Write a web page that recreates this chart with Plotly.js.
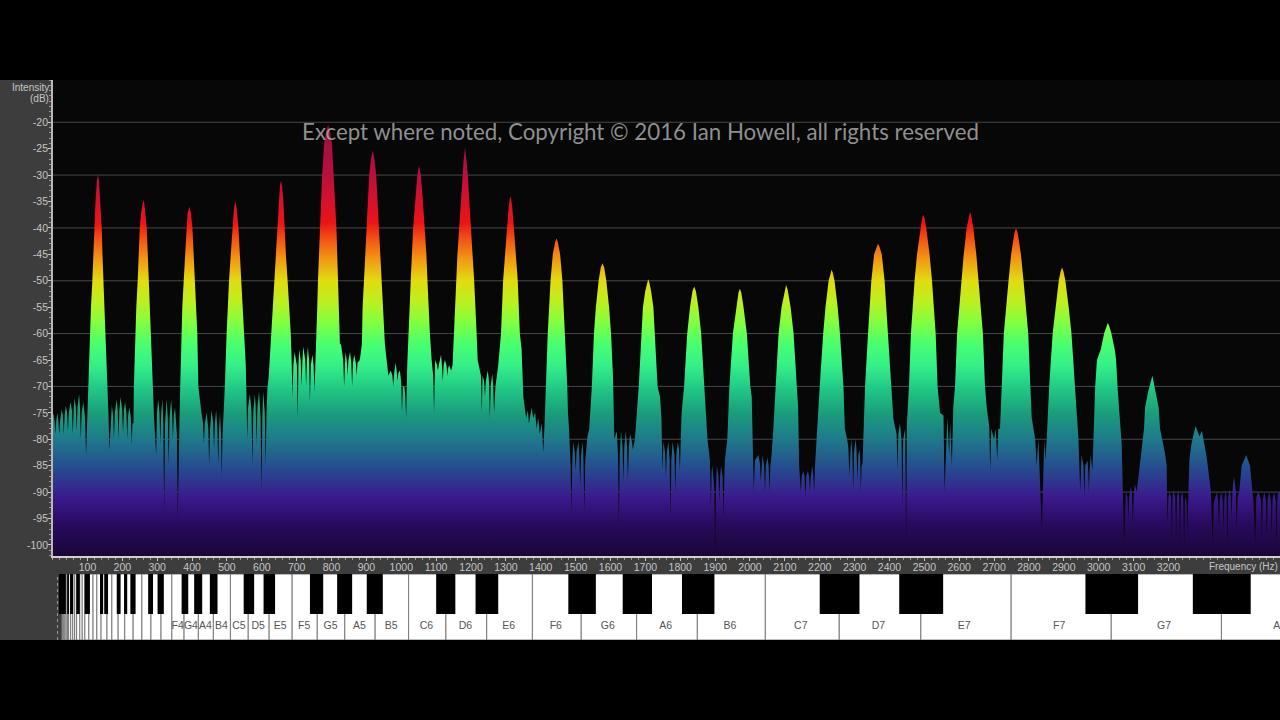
<!DOCTYPE html>
<html><head><meta charset="utf-8">
<script src="https://cdn.plot.ly/plotly-3.0.1.min.js"></script>
<style>html,body{margin:0;padding:0;background:#000}#c{width:1280px;height:720px}</style>
</head><body><div id="c"></div>
<script>
const bandHz = [
[0,2,5.5,8,10.5,14,16.5,19,21.5,26,29.5,32,34.5,38,41.5,44,46.5,51,55.5,58,60.5,63,66.5,69,71.5,76,78.5,81,83.5,88,93,96],
[100,104,110,114,117,119,123,127,130,133,137,141,143,146,150,156,160,163],
[166.5,170,173.5,176,178.5,184,186.5,189,191.5,195,199.5,202,204.5,208,211.5,214,216.5,220,224.5,227,229],
[232,233,237,240,244,247,250,254,257,260,263,266,270,273,276,280,283,287,291],
[297,299.5,303,306.5,309,311.5,315,317.5,320,322.5,327,330.5,333,335.5,340,342.5,345,347.5,351,356.5,359,361.5],
[364,366,369,372,376,380,383,387,392,397,401,404,408,412,415,418],
[422,426,431.5,434,436.5,442,446.5,449,451.5,456,460.5,463,465.5,469,472.5,475,477.5,480,483,485,487.5,490],
[494,499,502,506,511,515,520,524,528,533,537,542,546,549,554],
[556,558,560.5,566,570.5,573,575.5,580,582.5,585,587.5,592,596.5,599,601.5,604,608.5,611,613.5,616],
[620,627,631,636,641,645,648,652,655,658,662,665,669,674,679,683],
[685.5,688,690.5,694,700.5,703,705,707,711.5,714,716.5,719,724.5,727,729.5,732,735.5,738,740.5,745,748.5,751,753.5],
[756,759,761,764,766,770,773,779,785,790,795,801,807,810,814,816,819,821,824],
[827,833.5,836,838,840,843.5,846,848.5,853,856.5,859,861.5,865,869.5,872,874.5,881],
[887,889,893,897,900,904,908,913,918,923,928,932,936,939,943,947,953],
[963,970,974.5,977,979.5,984,986.5,989,991.5,996,999.5,1002,1004.5,1009,1011.5,1014],
[1017,1022,1024,1027,1030,1034,1040,1046,1051,1056,1062,1068,1072,1075,1078,1082,1087],
[1091.5,1094,1096,1097,1102.5,1105,1107.5,1114,1116.5,1119,1121.5,1125,1129.5,1132,1134.5,1137,1143],
[1147,1151,1157,1161,1166,1171,1175,1179,1183,1187,1191,1195,1200,1205,1209,1216,1219],
[1228.5,1231,1233,1237.5,1240,1242.5,1248,1251.5,1254,1256.5,1261,1263.5,1266,1270],
[1278,1286,1292,1297,1303,1308,1311,1313,1315,1318,1323,1329,1334,1340,1345,1350],
[1355,1358,1363,1366,1374,1378,1384,1388,1393,1397,1403,1407],
[1411,1414,1420,1428,1434.5,1441,1445,1449,1455.5,1462,1470,1476,1478],
[1481,1485.5,1488,1490.5,1493,1497.5,1500,1502.5,1508,1510.5,1513,1515.5,1520,1522.5,1525,1527.5,1534],
[1539,1546.5,1552.5,1558,1566,1572,1577,1582,1588,1596,1601.5,1607],
[1611,1618,1621.5,1624,1626.5,1630,1634.5,1637,1639.5,1644,1647.5,1650,1652.5,1656,1661.5,1664],
[1670,1681,1689,1693,1699.5,1705,1708,1711,1716.5,1723,1727,1735,1742],
[1746,1749,1752,1756.5,1759,1761.5,1766,1769.5,1772,1774.5,1778,1783.5,1786,1788.5,1793,1796.5,1799,1801.5],
[1804,1811,1820,1828,1835,1840,1845,1852,1860,1869,1878],
[1885,1888,1890,1892,1897.5,1900,1902.5,1905,1909.5,1912,1914.5,1917,1921.5,1924,1926.5,1928],
[1935,1941,1951,1960.5,1967,1971,1975,1981.5,1991,2001,2005],
[2011,2014,2024,2028.5,2031,2033.5,2036,2040.5,2043,2045.5,2050,2053.5,2056,2058.5,2062],
[2067,2073.5,2082,2090.5,2099,2103.5,2108,2116.5,2125,2133.5,2138],
[2141,2146,2148.5,2153,2156.5,2159,2161.5,2166,2169.5,2172,2174.5,2179,2181.5,2184,2186.5,2189],
[2196,2200,2210,2216.5,2225.5,2231,2234,2237,2242.5,2251.5,2258,2268,2272],
[2280,2282.5,2285,2287.5,2290,2293.5,2296,2298.5,2303,2305.5,2308,2310.5,2314,2316,2318,2320,2323],
[2325,2330,2338.5,2348,2356,2363,2367,2371,2378,2386,2395.5,2404,2411],
[2414,2420.5,2423,2425.5,2430,2434.5,2437,2439.5,2445,2446.5,2448],
[2450,2456,2461.5,2466,2472,2479,2488.5,2494,2497,2500,2505.5,2515,2522,2528,2532.5,2538,2545],
[2555,2558,2566,2571,2574,2579],
[2583,2588,2594,2606,2613,2621.5,2628,2631,2634,2640.5,2649,2656,2668,2674,2679],
[2686,2689,2692,2700,2705,2709,2712],
[2717,2722,2728,2741.5,2749,2758,2763,2768,2777,2784.5,2798,2804,2808],
[2818,2822,2827,2837,2844],
[2847,2851,2858,2868,2876,2885.5,2891,2895,2899,2904.5,2914,2922,2932,2942],
[2947,2951,2956.5,2959,2961.5,2968,2970,2972,2974,2977,2982],
[2985,2990,2995,3006,3015.5,3022,3026,3030,3036.5,3046,3050,3054,3062,3066],
[3073,3075.5,3078,3082.5,3085,3087.5,3092,3095.5,3098,3100.5,3104,3109],
[3117,3123,3130,3133,3142,3154,3162,3172,3176,3190,3195],
[3197,3200,3203,3207.5,3210,3212,3214,3219.5,3222,3224.5,3229,3231,3233,3235.5,3240,3242.5,3245,3247.5,3250,3252,3254],
[3260,3265,3271,3278,3289,3296,3310,3317,3322],
[3327,3330,3339,3342.5,3345,3347.5,3351,3355.5,3358,3360.5,3364,3366.5,3369,3371.5,3375,3378.5,3381,3383.5,3388,3393.5,3396,3398.5,3403],
[3410,3423,3434,3444],
[3449,3452,3458,3465.5,3468,3470.5,3475,3479.5,3482,3484.5,3489,3493.5,3496,3498.5,3503,3507.5,3510,3512.5,3515,3520]
];
const bandDb = [
[-76,-75,-76.5,-79,-76.5,-75,-76.5,-79,-76.5,-74.3,-75.5,-79,-75.5,-73.7,-75,-78.5,-75,-73,-74.5,-79,-74.5,-72.2,-74,-78.5,-74,-71.5,-74,-80,-75,-73,-76,-83],
[-75,-65,-55,-50,-45,-40,-35,-31,-30,-31,-35,-40,-45,-50,-55,-65,-75,-82],
[-76,-73.5,-75.5,-80,-75,-72.5,-74.5,-80,-74.5,-72,-74.5,-79,-74.5,-73,-75,-80,-75.5,-74,-76,-81,-77],
[-77,-70,-60,-55,-50,-45,-40,-37,-35.4,-34.7,-35.4,-37,-40,-45,-50,-55,-60,-70,-76],
[-83,-75,-72.5,-75,-81,-75,-72.5,-77,-94,-77,-72.5,-76,-85,-76,-72.5,-75,-80,-75.5,-74,-79,-95,-80],
[-76,-70,-60,-55,-50,-45,-40,-37.2,-36,-37.2,-40,-45,-50,-55,-60,-70],
[-73,-74.5,-77,-81,-77,-75,-78,-85,-78,-74.5,-77,-82,-77,-74.5,-78,-85,-78,-75,-79,-87,-79,-76],
[-70,-60,-55,-50,-45,-40,-36.3,-35,-36.3,-40,-45,-50,-55,-60,-66],
[-72,-80,-74,-71.5,-75,-85,-75,-71.5,-74,-81,-74,-71,-76,-90,-76,-71,-75,-85,-75,-70.5],
[-68,-60,-55,-50,-45,-40,-35,-32,-31,-32,-35,-40,-45,-50,-55,-60],
[-65,-72,-66,-63.5,-66,-76,-66,-63,-65,-70,-65,-62.5,-65,-70,-65,-62.5,-65,-73,-66,-64,-66,-71,-66],
[-62,-55,-50,-45,-40,-35,-30,-24,-21.5,-20.5,-21.5,-24,-30,-35,-40,-45,-50,-55,-62],
[-62,-65,-70,-65,-63.5,-65,-68,-65,-63.5,-65.5,-70,-65.5,-64,-65.5,-68,-65.5,-65],
[-62,-55,-50,-45,-40,-35,-30,-27,-25.3,-27,-30,-35,-40,-45,-50,-55,-62],
[-68,-67,-68,-70,-67.5,-65.5,-67,-69,-67.5,-67,-69,-75,-70,-70,-72,-76],
[-66,-60,-55,-50,-45,-40,-35,-30,-28.2,-30,-35,-40,-45,-50,-55,-60,-65],
[-68,-75,-68,-65,-66,-67,-66,-64,-66,-69,-66,-65,-66,-68,-66.5,-66,-67],
[-66,-60,-50,-45,-40,-35,-30,-27,-24.7,-27,-30,-35,-40,-45,-50,-60,-65],
[-68,-75,-68,-69,-72,-69,-67,-69,-76,-70,-67.5,-70,-75,-70],
[-66,-60,-50,-45,-40,-36,-34.5,-34,-34.5,-36,-40,-45,-50,-60,-63,-72],
[-74.5,-76,-74.5,-77,-74,-76,-75,-78,-76,-79,-77,-82.5],
[-77,-70,-60,-50,-45,-42.7,-42,-42.7,-45,-50,-60,-70,-75],
[-78,-85,-94,-84,-80.5,-82.5,-86,-82.5,-80.5,-83,-89,-83,-80.5,-84,-94,-84,-79.5],
[-78,-70,-60,-55,-50,-47.5,-46.7,-47.5,-50,-55,-60,-68],
[-80,-78.5,-83,-97,-83,-78.5,-81.5,-88,-81.5,-78.5,-81.5,-88,-81.5,-79,-80.5,-82],
[-80,-70,-60,-55,-52,-50.2,-49.7,-50.2,-52,-55,-60,-70,-72],
[-76,-86,-80.5,-82.5,-87,-82.5,-80.5,-84,-95,-84,-80.5,-83,-90,-83,-80.5,-82,-86,-80],
[-75,-70,-60,-55,-52,-51.1,-52,-55,-60,-70,-80],
[-84,-93,-86,-85,-89,-102,-89,-85,-87,-92,-87,-85,-87,-95,-87,-84],
[-80,-70,-60,-55,-52.2,-51.5,-52.2,-55,-60,-70,-72],
[-90,-84,-83,-84.5,-88,-84.5,-83,-85,-90,-85,-83.5,-85,-90,-85,-83],
[-78,-70,-60,-55,-51.7,-50.8,-51.7,-55,-60,-70,-74],
[-85,-90,-87,-86,-87,-91,-87,-86,-87,-90,-87,-85,-87,-90,-85,-82],
[-75,-70,-60,-55,-50,-48.4,-47.9,-48.4,-50,-55,-60,-70,-78],
[-80.5,-82,-87,-82,-80,-82.5,-90,-82.5,-80,-82,-88,-83,-82,-84,-90,-85,-84.5],
[-80,-70,-60,-50,-45,-43.5,-43,-43.5,-45,-50,-60,-70,-76],
[-77,-79,-86,-79,-77,-80,-93,-80,-78,-85,-100],
[-77,-70,-60,-55,-50,-45,-40,-38,-37.5,-38,-40,-45,-50,-55,-60,-70,-75],
[-75.5,-90,-76,-83,-77,-85],
[-74,-70,-60,-50,-45,-40,-37.5,-37,-37.5,-40,-45,-50,-60,-70,-74],
[-77.5,-86,-78,-80,-78,-84,-78],
[-78,-70,-60,-50,-45,-41,-40,-41,-45,-50,-60,-70,-76],
[-80,-85,-80,-97,-80],
[-84,-80,-70,-60,-55,-50,-48.2,-47.5,-48.2,-50,-55,-60,-70,-80],
[-90,-83,-85,-91,-85,-84,-86,-90,-86,-83,-86],
[-79,-70,-65,-63,-60,-58.5,-58,-58.5,-60,-63,-65,-70,-77,-81],
[-100,-92,-90,-91,-95,-91,-89,-90.5,-96,-90.5,-88.5,-90],
[-85,-82.6,-78,-74,-71,-68,-71,-74,-78,-82.6,-85],
[-96,-91,-90,-91,-99,-91,-89.5,-91,-99,-91,-89.5,-91,-100,-91,-90,-91.5,-100,-91.5,-91,-92,-98],
[-84,-81.3,-79.4,-77.5,-79.5,-78.4,-83.5,-87,-90],
[-100,-92,-90,-91.5,-97,-91.5,-90,-91.5,-97,-91.5,-89.5,-91,-100,-91,-89.5,-90.5,-95,-90,-87,-90,-97,-91,-90],
[-85,-83,-85,-92],
[-100,-91,-90,-91.5,-99,-91.5,-90,-91.5,-98,-91.5,-90,-91.5,-98,-91.5,-90,-91.5,-100,-91.5,-90,-90]
];

const dbTicks = [-20,-25,-30,-35,-40,-45,-50,-55,-60,-65,-70,-75,-80,-85,-90,-95,-100];
const gridDb = [-20,-30,-40,-50,-60,-70,-80,-90];
const hzTicks = [100,200,300,400,500,600,700,800,900,1000,1100,1200,1300,1400,1500,1600,1700,1800,1900,2000,2100,2200,2300,2400,2500,2600,2700,2800,2900,3000,3100,3200];
const freqRange = [0,3520];
const dbRange = [-102.1,-12];

const whiteEdgesHz = [27,29,32,35,39,42.5,46,52,58,63.5,69,78,85,92.5,104,116,127,139,156,170,188,207,231,256,282,311,342,377,418,461,510,561,621,687,759,838,925,1021,1128,1245,1376,1516,1675,1849,2044,2256,2490,2749,3036,3352,3700];
const blackLowHz  = [18,42,50,68,92,136,148,184,205,223,274,301,370,406,451,548,605,738,816,901,1100,1213,1479,1635,1805,2200,2428,2962,3270];
const blackHighHz = [38,47,59,78,107,145,159,195,214,238,288,319,389,429,473,578,638,776,859,947,1155,1278,1558,1719,1898,2314,2554,3113,3436];
const noteNames = ['F4','G4','A4','B4','C5','D5','E5','F5','G5','A5','B5','C6','D6','E6','F6','G6','A6','B6','C7','D7','E7','F7','G7','A7'];
const firstNamedKey = 26;
const labelShiftRatio = 0.002;
const railHz = 14;

const gradientStops = [
 [-102.1,'#190737'],[-96,'#290a5e'],[-91,'#3a1a8c'],[-86,'#27478f'],[-80,'#1e7a8a'],[-75,'#1a9e7c'],
 [-70,'#22cc86'],[-66,'#35f088'],[-62,'#48ff70'],[-58,'#80ff40'],[-54,'#bcf020'],[-50,'#e0dc10'],
 [-46,'#f29a14'],[-42,'#f25014'],[-39,'#ea1414'],[-35,'#d8102c'],[-30,'#b8103c'],[-25,'#a81040'],[-20,'#8c0f38'],[-12,'#800f38']];

const freqHz = bandHz.flat(), levelDb = bandDb.flat();
const grey='#c6c6c6', panel='#3d3d3d';
const gridX=[],gridY=[];
gridDb.forEach(d=>{gridX.push(freqRange[0],freqRange[1],null);gridY.push(d,d,null);});
const scale=gradientStops.map(s=>[(s[0]-dbRange[0])/(dbRange[1]-dbRange[0]),s[1]]);
scale[scale.length-1][0]=1;

const wCenter=[],wWidth=[];
for(let i=0;i<whiteEdgesHz.length-1;i++){wCenter.push((whiteEdgesHz[i]+whiteEdgesHz[i+1])/2);wWidth.push(whiteEdgesHz[i+1]-whiteEdgesHz[i]);}
const bCenter=blackLowHz.map((l,i)=>(l+blackHighHz[i])/2), bWidth=blackLowHz.map((l,i)=>blackHighHz[i]-l);

const traces=[
 {type:'scatter',mode:'lines',x:gridX,y:gridY,line:{color:'#474747',width:1},hoverinfo:'skip',showlegend:false},
 {type:'scatter',mode:'lines',x:freqRange,y:[dbRange[0],dbRange[0]],line:{width:0},hoverinfo:'skip',showlegend:false},
 {type:'scatter',mode:'lines',x:freqHz,y:levelDb,line:{width:0},fill:'tonexty',
  fillgradient:{type:'vertical',start:dbRange[0],stop:dbRange[1],colorscale:scale},hoverinfo:'skip',showlegend:false},
 {type:'bar',x:wCenter,width:wWidth,y:wCenter.map(()=>1),base:0,xaxis:'x2',yaxis:'y2',
  marker:{color:'#ffffff',line:{color:'#7a7a7a',width:1}},hoverinfo:'skip',showlegend:false},
 {type:'bar',x:bCenter,width:bWidth,y:bCenter.map(()=>0.606),base:0.394,xaxis:'x2',yaxis:'y2',
  marker:{color:'#000000',line:{width:0}},hoverinfo:'skip',showlegend:false},
 {type:'scatter',mode:'lines',x:[railHz,railHz],y:[0,1],xaxis:'x2',yaxis:'y2',line:{color:'#9a9a9a',width:1,dash:'dot'},hoverinfo:'skip',showlegend:false},
 {type:'scatter',mode:'text',x:noteNames.map((n,i)=>wCenter[firstNamedKey+i]*(1-labelShiftRatio)),y:noteNames.map(()=>0.205),text:noteNames,
  textfont:{family:'Liberation Sans, Arial, sans-serif',size:10.5,color:'#555555'},textposition:'middle center',
  xaxis:'x2',yaxis:'y2',hoverinfo:'skip',showlegend:false}
];

const H=720,W=1280;
const layout={
 width:W,height:H,margin:{l:0,r:0,t:0,b:0},paper_bgcolor:'#000',plot_bgcolor:'rgba(0,0,0,0)',showlegend:false,barmode:'overlay',
 xaxis:{domain:[52.6/W,1],range:freqRange,anchor:'y',tickmode:'array',tickvals:hzTicks,ticktext:hzTicks.map(String),ticks:'outside',ticklen:3,tickcolor:grey,ticklabelstandoff:-2,
  tickfont:{family:'Liberation Sans, Arial, sans-serif',size:10.5,color:grey},showgrid:false,zeroline:false,showline:true,linecolor:'#d0d0d0',linewidth:1.5,
  minor:{dtick:20,ticks:'outside',ticklen:2,tickcolor:'#999'}},
 yaxis:{domain:[(H-556)/H,(H-80)/H],range:dbRange,anchor:'x',tickmode:'array',tickvals:dbTicks,ticktext:dbTicks.map(String),ticks:'outside',ticklen:3,tickcolor:grey,ticklabelstandoff:-2,
  tickfont:{family:'Liberation Sans, Arial, sans-serif',size:10.5,color:grey},showgrid:false,zeroline:false,showline:true,linecolor:'#b8b8b8',linewidth:1.5,
  minor:{dtick:1,ticks:'outside',ticklen:2,tickcolor:'#999'}},
 xaxis2:{domain:[52.6/W,1],range:freqRange,anchor:'y2',visible:false},
 yaxis2:{domain:[(H-640)/H,(H-574)/H],range:[0,1],anchor:'x2',visible:false},
 shapes:[
  {type:'rect',xref:'paper',yref:'paper',x0:0,x1:1,y0:(H-640)/H,y1:(H-80)/H,fillcolor:panel,line:{width:0},layer:'below'},
  {type:'rect',xref:'paper',yref:'paper',x0:52.6/W,x1:1,y0:(H-556)/H,y1:(H-80)/H,fillcolor:'#070707',line:{width:0},layer:'below'}
 ],
 annotations:[
  {xref:'paper',yref:'paper',x:640/W,y:(H-131.5)/H,text:'Except where noted, Copyright © 2016 Ian Howell, all rights reserved',showarrow:false,
   font:{family:'Lato, sans-serif',size:22.3,color:'rgba(170,170,170,0.85)'},xanchor:'center',yanchor:'middle'},
  {xref:'paper',yref:'paper',x:51/W,y:(H-87)/H,text:'Intensity',showarrow:false,font:{family:'Liberation Sans, Arial, sans-serif',size:10,color:grey},xanchor:'right',yanchor:'middle'},
  {xref:'paper',yref:'paper',x:51/W,y:(H-99)/H,text:'(dB)',showarrow:false,font:{family:'Liberation Sans, Arial, sans-serif',size:10,color:grey},xanchor:'right',yanchor:'middle'},
  {xref:'paper',yref:'paper',x:1280/W,y:(H-566)/H,text:'Frequency (Hz)',showarrow:false,font:{family:'Liberation Sans, Arial, sans-serif',size:10,color:grey},xanchor:'right',yanchor:'middle'}
 ]
};
Plotly.newPlot('c',traces,layout,{staticPlot:true,displayModeBar:false});
</script></body></html>
